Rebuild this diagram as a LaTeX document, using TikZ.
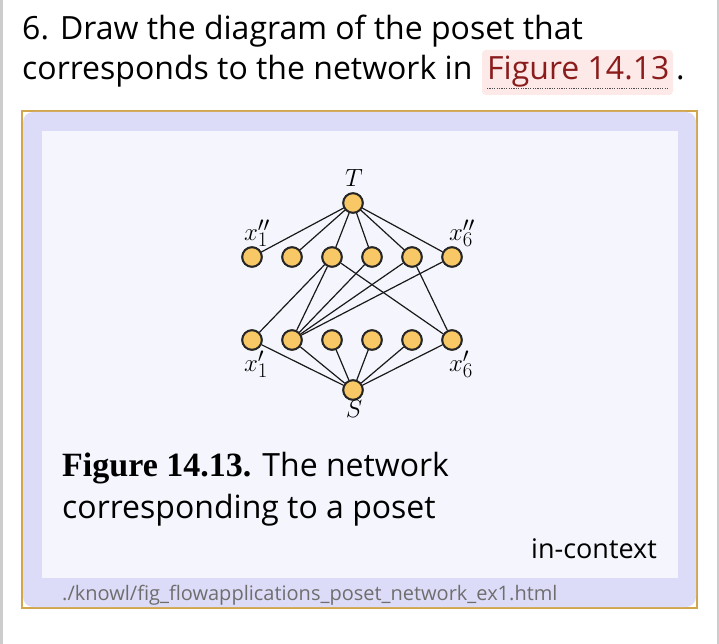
\documentclass[tikz,border=0pt]{standalone}
\usepackage{fontspec}
\setmainfont{Open Sans}
\newfontfamily\capserif{Liberation Serif}
\definecolor{goldb}{HTML}{D2A64C}
\definecolor{lav}{HTML}{DCDCF8}
\definecolor{panel}{HTML}{F5F5FD}
\definecolor{linkbg}{HTML}{FDEAE8}
\definecolor{linkfg}{HTML}{8A1C1C}
\definecolor{nodefill}{HTML}{F8C866}
\definecolor{urlgray}{HTML}{6E6E6E}
\definecolor{sidegray}{HTML}{CCCCCC}
\begin{document}
\begin{tikzpicture}[x=1pt,y=-1pt,
  vtx/.style={circle,draw=black!85,line width=1.9pt,fill=nodefill,minimum size=19.5pt,inner sep=0pt},
  edge/.style={line width=1.2pt,black!90},
  lbl/.style={inner sep=0pt,font=\fontsize{27.5}{32}\selectfont},
  body/.style={inner sep=0pt,anchor=base west,font=\fontsize{32}{38}\selectfont}]
\useasboundingbox (0,0) rectangle (719,644);
\fill[white] (0,0) rectangle (719,644);
\fill[sidegray] (0,0) rectangle (2.5,644);
\fill[sidegray] (716.5,0) rectangle (719,644);
% question text
\node[body] (q1) at (22,40) {6. Draw the diagram of the poset that};
\fill[linkbg,rounded corners=4pt] (482,50) rectangle (673,95);
\node[body] (q2) at (22,80) {corresponds to the network in};
\node[body,text=linkfg] (q3) at (487,80) {Figure 14.13};
\draw[black!70,line width=1.2pt,dash pattern=on 1.2pt off 1.2pt] (487,88.5) -- (668,88.5);
\node[body] (q4) at (676,80) {.};
% box
\draw[goldb,line width=2pt] (22,111) rectangle (697,608);
\fill[lav,rounded corners=10pt] (23,112) rectangle (696,607);
\fill[panel] (42,131) rectangle (678,578);
% graph
\node[vtx] (T) at (353,203) {};
\node[vtx] (S) at (353,390) {};
\foreach \i/\x in {1/252,2/292,3/332,4/372,5/412,6/452}{
  \node[vtx] (u\i) at (\x,257) {};
  \node[vtx] (d\i) at (\x,340) {};
}
\foreach \i in {1,...,6}{
  \draw[edge] (T) -- (u\i);
  \draw[edge] (S) -- (d\i);
}
\draw[edge] (u3) -- (d1);
\draw[edge] (u3) -- (d2);
\draw[edge] (u3) -- (d6);
\draw[edge] (u4) -- (d2);
\draw[edge] (u5) -- (d2);
\draw[edge] (u5) -- (d6);
\draw[edge] (u6) -- (d2);
% redraw nodes on top
\foreach \n in {T,S,u1,u2,u3,u4,u5,u6,d1,d2,d3,d4,d5,d6}{
  \node[vtx] at (\n) {};
}
\node[lbl] (lT) at (354,178) {$T$};
\node[lbl] (lS) at (354,409) {$S$};
\node[lbl] (lu1) at (257,233) {$x_1''$};
\node[lbl] (lu6) at (462,233) {$x_6''$};
\node[lbl] (ld1) at (256,364) {$x_1'$};
\node[lbl] (ld6) at (461,364) {$x_6'$};
% caption
\node[body] (c1) at (62,476) {{\capserif\fontsize{34}{38}\selectfont\bfseries Figure 14.13.} The network};
\node[body] (c2) at (62,518) {corresponding to a poset};
\node[inner sep=0pt,anchor=base east,font=\fontsize{27}{32}\selectfont] (ic) at (657,558) {in-context};
\node[inner sep=0pt,anchor=base west,font=\fontsize{20}{24}\selectfont,text=urlgray] (url) at (62,600) {./knowl/fig\_flowapplications\_poset\_network\_ex1.html};
\end{tikzpicture}
\end{document}
